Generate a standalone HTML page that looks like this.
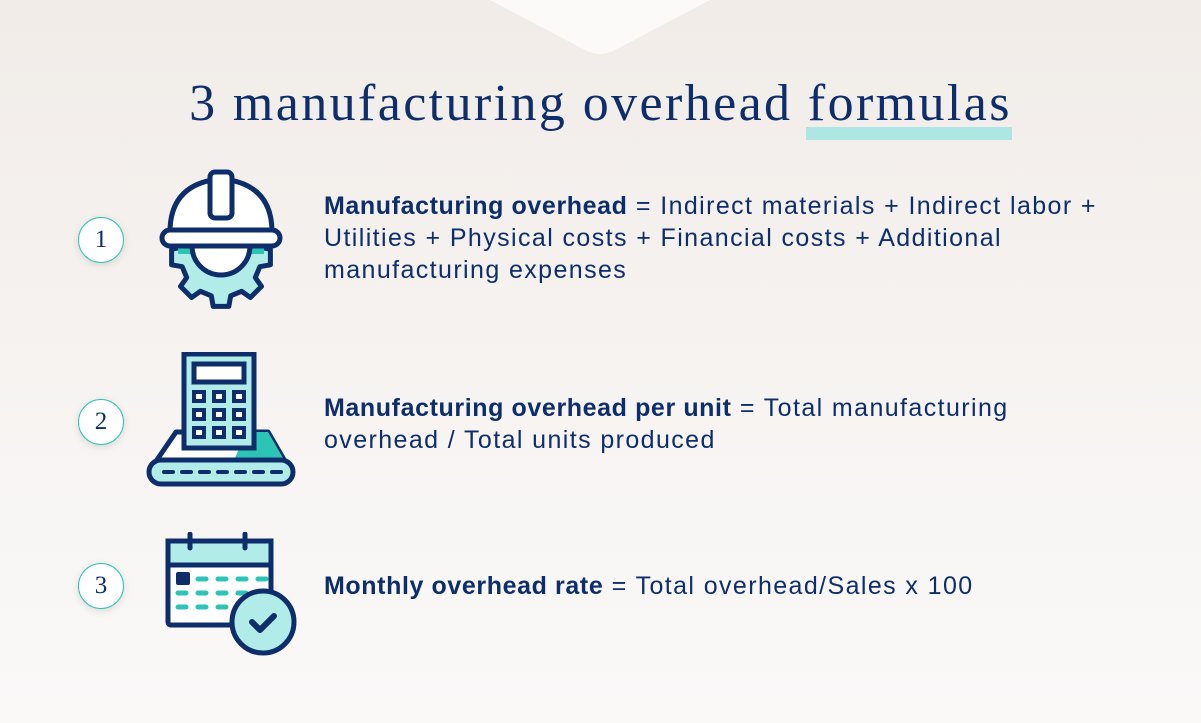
<!DOCTYPE html>
<html><head><meta charset="utf-8"><style>
body{margin:0;width:1201px;height:723px;overflow:hidden;background:linear-gradient(#f1ece8,#f9f7f6 80%,#faf9f8);position:relative;font-family:"Liberation Sans",sans-serif;color:#0d2d6b}
.title{position:absolute;left:0;width:1201px;top:74px;text-align:center;font-family:"Liberation Serif",serif;font-size:52px;color:#0d2d6b;letter-spacing:2.4px}
.ul{position:absolute;left:806px;top:127px;width:206px;height:13px;background:#aee6e2}
.num{position:absolute;left:78px;width:44px;height:44px;border-radius:50%;background:#fff;border:1.5px solid #2cc4b5;box-shadow:0 2px 8px rgba(0,0,0,.12);font-family:"Liberation Serif",serif;font-size:25px;text-align:center;line-height:44px}
.txt{position:absolute;left:324px;font-size:25px;line-height:32px;letter-spacing:1.4px;color:#0d2d6b}
.txt b{font-weight:bold;letter-spacing:0.6px}
svg{position:absolute}
</style></head><body>
<svg style="left:490px;top:0" width="220" height="56"><path d="M0 0 L95 50 Q110 58 125 50 L220 0 Z" fill="#fbfaf9"/></svg>
<div class="ul"></div>
<div class="title">3 manufacturing overhead formulas</div>

<div class="num" style="top:217px">1</div>
<div class="num" style="top:399px">2</div>
<div class="num" style="top:563px">3</div>

<svg style="left:158px;top:166px" width="126" height="146" viewBox="0 0 126 146">
<g transform="translate(0,-4)">
<polygon points="101.8,85.3 112.4,87.2 112.4,102.8 101.8,104.7 97.3,115.6 103.5,124.4 92.4,135.5 83.6,129.3 72.7,133.8 70.8,144.4 55.2,144.4 53.3,133.8 42.4,129.3 33.6,135.5 22.5,124.4 28.7,115.6 24.2,104.7 13.6,102.8 13.6,87.2 24.2,85.3 28.7,74.4 22.5,65.6 33.6,54.5 42.4,60.7 53.3,56.2 55.2,45.6 70.8,45.6 72.7,56.2 83.6,60.7 92.4,54.5 103.5,65.6 97.3,74.4" fill="#b2ece8" stroke="#0d2d6b" stroke-width="5" stroke-linejoin="round"/>
</g>
<path d="M20 82 h18 v6 h-18z M88 82 h18 v6 h-18z" fill="#2cc4b5"/>
<path d="M34 80 a29 29 0 0 0 58 0" fill="#fff" stroke="#0d2d6b" stroke-width="5"/>
<path d="M12 66 Q12 22 54 14 h18 Q114 22 114 66" fill="#fff" stroke="#0d2d6b" stroke-width="5"/>
<rect x="52" y="6" width="22" height="46" rx="5" fill="#fff" stroke="#0d2d6b" stroke-width="5"/>
<rect x="4" y="64" width="118" height="16" rx="8" fill="#fff" stroke="#0d2d6b" stroke-width="5"/>
</svg>

<svg style="left:146px;top:352px" width="150" height="136" viewBox="0 0 150 136">
<path d="M30 80 h92 l22 38 h-140z" fill="#fff" stroke="#0d2d6b" stroke-width="5" stroke-linejoin="round"/>
<path d="M100 80 h22 l22 38 h-60z" fill="#2cc4b5"/>
<rect x="3" y="108" width="144" height="24" rx="12" fill="#b2ece8" stroke="#0d2d6b" stroke-width="5"/>
<path d="M18 120 h120" stroke="#0d2d6b" stroke-width="4" stroke-dasharray="9 9" stroke-linecap="round"/>
<rect x="38" y="2" width="70" height="94" fill="#b2ece8" stroke="#0d2d6b" stroke-width="5"/>
<rect x="48" y="12" width="50" height="18" fill="#fff" stroke="#0d2d6b" stroke-width="5"/>
<g fill="#fff" stroke="#0d2d6b" stroke-width="4">
<rect x="48" y="40" width="10" height="9"/><rect x="68" y="40" width="10" height="9"/><rect x="88" y="40" width="10" height="9"/>
<rect x="48" y="58" width="10" height="9"/><rect x="68" y="58" width="10" height="9"/><rect x="88" y="58" width="10" height="9"/>
<rect x="48" y="76" width="10" height="9"/><rect x="68" y="76" width="10" height="9"/><rect x="88" y="76" width="10" height="9"/></g>
</svg>

<svg style="left:160px;top:532px" width="140" height="126" viewBox="0 0 140 126">
<rect x="8" y="9" width="103" height="84" rx="3" fill="#fff" stroke="#0d2d6b" stroke-width="5"/>
<rect x="8" y="9" width="103" height="24" fill="#b2ece8" stroke="#0d2d6b" stroke-width="5"/>
<path d="M30 2v14M85 2v14" stroke="#0d2d6b" stroke-width="5" stroke-linecap="round"/>
<rect x="16" y="40" width="14" height="13" rx="2" fill="#0d2d6b"/>
<g stroke="#2cc4b5" stroke-width="5" stroke-linecap="round"><path d="M38 47h70" stroke-dasharray="8 12"/><path d="M18 61h70" stroke-dasharray="8 12"/><path d="M18 75h50" stroke-dasharray="8 12"/></g>
<circle cx="103" cy="90" r="31" fill="#b2ece8" stroke="#0d2d6b" stroke-width="5"/>
<path d="M92 90 l8 8 14 -14" fill="none" stroke="#0d2d6b" stroke-width="6" stroke-linecap="round" stroke-linejoin="round"/>
</svg>

<div class="txt" style="top:190px"><b>Manufacturing overhead</b> = Indirect materials + Indirect labor +<br>Utilities + Physical costs + Financial costs + Additional<br>manufacturing expenses</div>
<div class="txt" style="top:392px"><b>Manufacturing overhead per unit</b> = Total manufacturing<br>overhead / Total units produced</div>
<div class="txt" style="top:570px"><b>Monthly overhead rate</b> = Total overhead/Sales x 100</div>
</body></html>
